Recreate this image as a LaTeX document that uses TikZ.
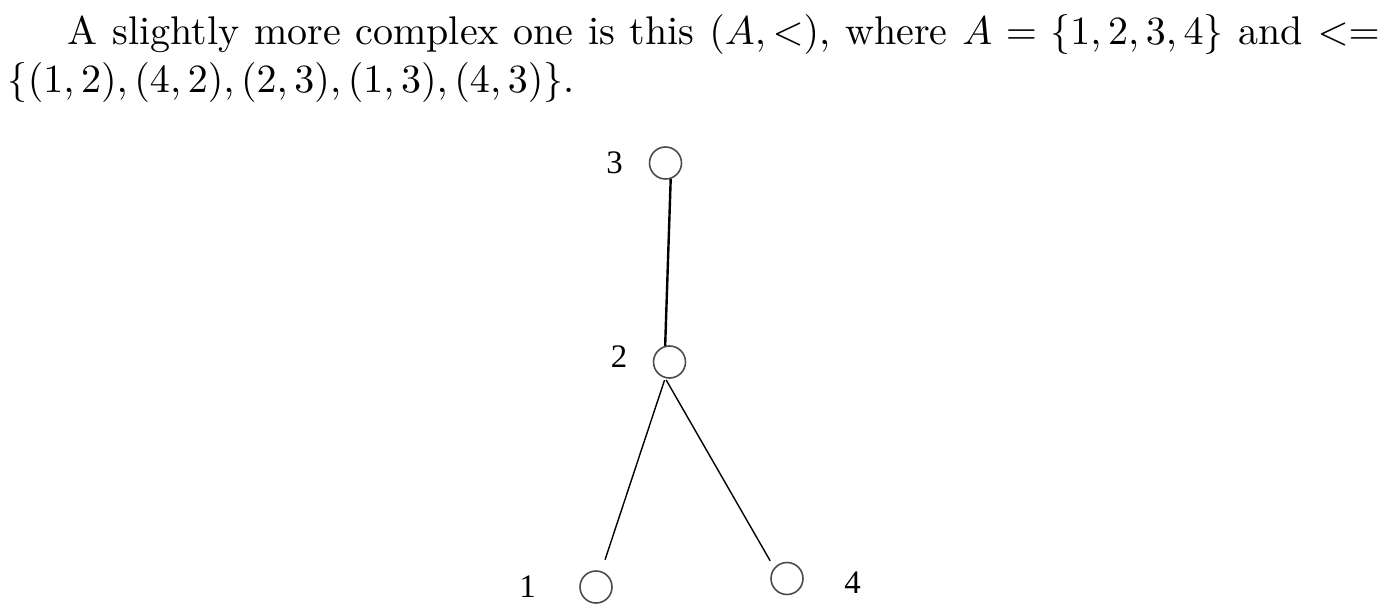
\documentclass[tikz,border=0pt]{standalone}
\usepackage{fontspec}
\usepackage{tikz}
\usetikzlibrary{positioning, calc}

\newfontfamily\numfont{Liberation Serif}

\tikzset{
  elem/.style={circle, draw=black!70, line width=.4pt, fill=none,
               inner sep=0pt, minimum size=8pt},
  elemlabel/.style={font=\numfont\fontsize{8.2}{10}\selectfont, inner sep=0pt, anchor=base},
  textline/.style={anchor=base west, inner sep=0pt, font=\fontsize{10}{12}\selectfont},
  coverthick/.style={line width=.6pt},
  coverthin/.style={line width=.35pt}
}

\begin{document}
\begin{tikzpicture}[x=0.25pt, y=-0.25pt]
  \useasboundingbox (0,0) rectangle (1388,608);

  % the sentence above the picture
  \node[textline] (line1) at (7,45)
    {\hbox to 343pt{\hspace*{15pt}A slightly more complex one is this $(A,<)$, where $A=\{1,2,3,4\}$ and $<=$}};
  \node[textline] (line2) at (7,93)
    {$\{(1,2),(4,2),(2,3),(1,3),(4,3)\}$.};

  % elements of A
  \node[elem] (n3) at (665.5,163) {};
  \node[elem] (n2) at (669.5,362) {};
  \node[elem] (n1) at (596,587) {};
  \node[elem] (n4) at (787,578.5) {};

  \node[elemlabel] (l3) at (614.5,174) {3};
  \node[elemlabel] (l2) at (619,368) {2};
  \node[elemlabel] (l1) at (527.5,597) {1};
  \node[elemlabel] (l4) at (852.5,593) {4};

  % covering relations
  \draw[coverthick] (n3.-72) -- (n2.105);
  \draw[coverthin, shorten <=.5pt, shorten >=3pt] (n2.-105) -- (n1);
  \draw[coverthin, shorten <=.5pt, shorten >=2pt] (n2.-105) -- (n4.140);
\end{tikzpicture}
\end{document}
